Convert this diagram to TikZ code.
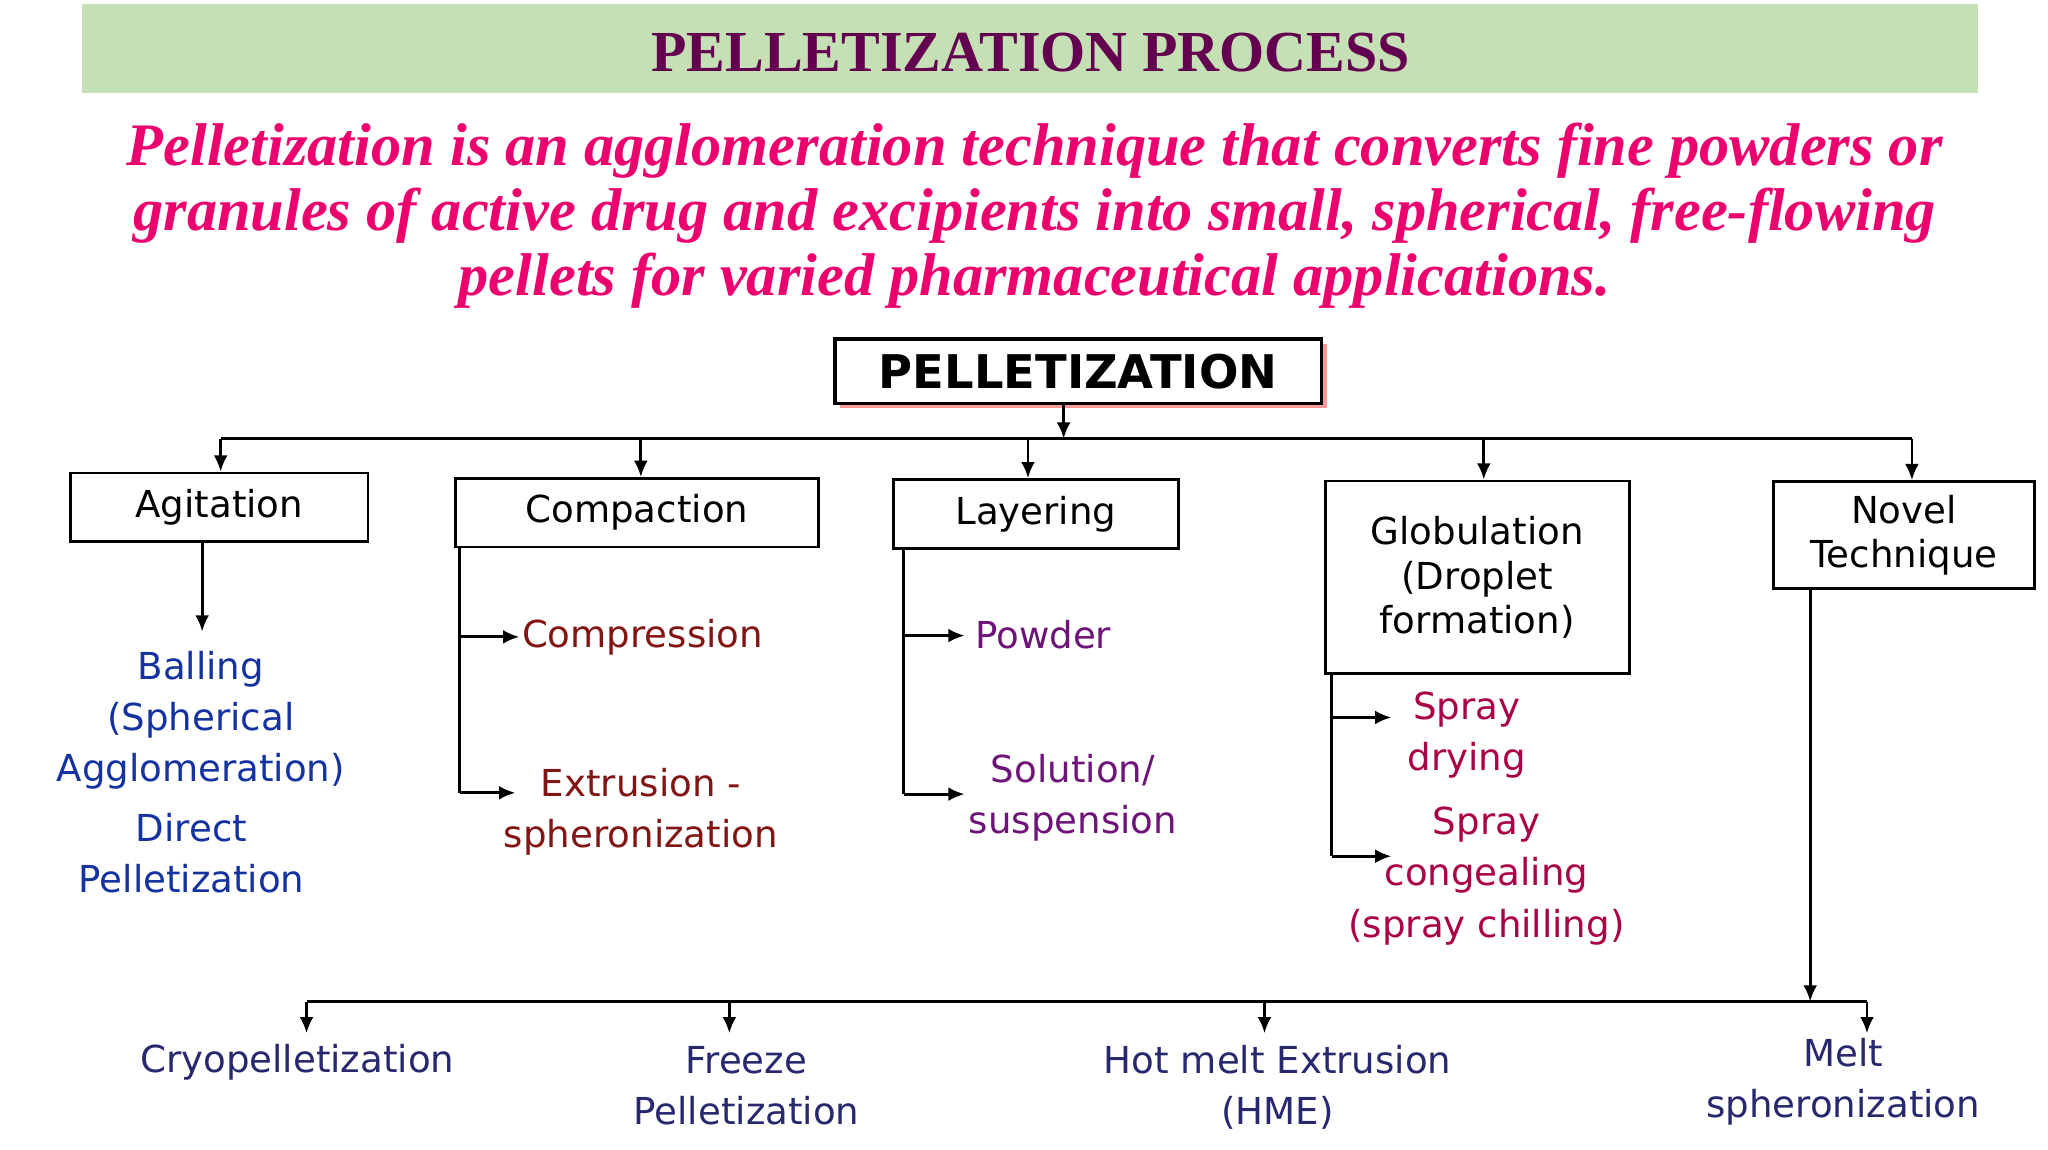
\documentclass[tikz,border=0pt]{standalone}
\usepackage{fontspec}
\setmainfont{Liberation Serif}
\newfontfamily\diagfont{DejaVu Sans}
\usetikzlibrary{positioning,arrows.meta}
\definecolor{bandgreen}{RGB}{197,224,180}
\definecolor{titlepurple}{RGB}{100,0,80}
\definecolor{defpink}{RGB}{235,0,110}
\definecolor{agiblue}{RGB}{20,50,160}
\definecolor{compred}{RGB}{130,20,20}
\definecolor{laypurple}{RGB}{110,20,120}
\definecolor{globred}{RGB}{170,0,70}
\definecolor{novblue}{RGB}{40,40,110}

\tikzset{
	catbox/.style={draw, line width=1.2pt, fill=white, font=\diagfont\fontsize{16}{19}\selectfont, align=center, inner sep=0pt},
	subtext/.style={font=\diagfont\fontsize{16}{22}\selectfont, align=center, inner sep=1pt},
	link/.style={line width=1.2pt},
	arr/.style={line width=1.2pt, -{Latex[length=7pt,width=6pt]}},
}

\begin{document}
\begin{tikzpicture}[x=0.02cm, y=-0.02cm]

% canvas %{{{2

	\useasboundingbox (0,0) rectangle (1550,870);

% heading %{{{2

	\fill[bandgreen] (62,3) rectangle (1497,70);
	\node[text=titlepurple, font=\bfseries\fontsize{25}{30}\selectfont] (title) at (780,40) {PELLETIZATION PROCESS};

	\node[text=defpink, font=\bfseries\itshape\fontsize{26}{28}\selectfont, align=center] (definition) at (783,163)
		{Pelletization is an agglomeration technique that converts fine powders or\\
		 granules of active drug and excipients into small, spherical, free-flowing\\
		 pellets for varied pharmaceutical applications.};

% main box and bus %{{{2

	\fill[red!40] (636,260) rectangle (1004,309);
	\node[draw, line width=1.4pt, fill=white, minimum width=368*0.02cm, minimum height=49*0.02cm,
		font=\diagfont\bfseries\fontsize{20}{24}\selectfont] (pell) at (816,281) {PELLETIZATION};

	\coordinate (busL) at (167,332);
	\coordinate (busR) at (1447,332);
	\draw[link] (busL) -- (busR);
	\draw[arr] (pell.south -| 805,0) -- (805,332);

% categories %{{{2

	\node[catbox, minimum width=225*0.02cm, minimum height=52*0.02cm] (agit) at (166,384) {Agitation};
	\node[catbox, minimum width=275*0.02cm, minimum height=52*0.02cm] (comp) at (482,388) {Compaction};
	\node[catbox, minimum width=216*0.02cm, minimum height=52*0.02cm] (layer) at (784,389) {Layering};
	\node[catbox, minimum width=230*0.02cm, minimum height=146*0.02cm] (glob) at (1118,437) {Globulation\\(Droplet\\formation)};
	\node[catbox, minimum width=197*0.02cm, minimum height=81*0.02cm] (novel) at (1441,405) {Novel\\Technique};

	\foreach \x/\n in {167/agit, 485/comp, 778/layer, 1123/glob, 1447/novel} {
		\draw[arr] (\x,332) -- (\n.north -| \x,0);
	}

% agitation %{{{2

	\node[subtext, text=agiblue] (balling) at (152,545) {Balling\\(Spherical\\Agglomeration)};
	\node[subtext, text=agiblue] (direct) at (145,646) {Direct\\Pelletization};
	\draw[arr] (agit.south -| 153,0) -- (153,478);

% compaction %{{{2

	\node[subtext, text=compred, anchor=west] (compress) at (393,482) {Compression};
	\node[subtext, text=compred] (extru) at (485,614) {Extrusion -\\spheronization};
	\draw[link] (comp.south -| 348,0) -- (348,600);
	\draw[arr] (348,482) -- (compress.west);
	\draw[arr] (348,600) -- (390,600);

% layering %{{{2

	\node[subtext, text=laypurple, anchor=west] (powder) at (736,480) {Powder};
	\node[subtext, text=laypurple] (solution) at (812,604) {Solution/\\suspension};
	\draw[link] (layer.south -| 684,0) -- (684,601);
	\draw[arr] (684,481) -- (730,481);
	\draw[arr] (684,601) -- (730,601);

% globulation %{{{2

	\node[subtext, text=globred] (drying) at (1110,556) {Spray\\drying};
	\node[subtext, text=globred] (congeal) at (1125,663) {Spray\\congealing\\(spray chilling)};
	\draw[link] (glob.south -| 1008,0) -- (1008,648);
	\draw[arr] (1008,543) -- (1053,543);
	\draw[arr] (1008,648) -- (1053,648);

% novel techniques %{{{2

	\draw[arr] (novel.south -| 1370,0) -- (1370,758);
	\draw[link] (232,758) -- (1413,758);

	\node[subtext, text=novblue] (cryo) at (225,804) {Cryopelletization};
	\node[subtext, text=novblue] (freeze) at (565,822) {Freeze\\Pelletization};
	\node[subtext, text=novblue] (hme) at (967,823) {Hot melt Extrusion\\(HME)};
	\node[subtext, text=novblue] (melt) at (1395,819) {Melt\\spheronization};

	\foreach \x in {232, 552, 957, 1413} { \draw[arr] (\x,758) -- (\x,782); }

% closing %{{{2

\end{tikzpicture}
\end{document}
